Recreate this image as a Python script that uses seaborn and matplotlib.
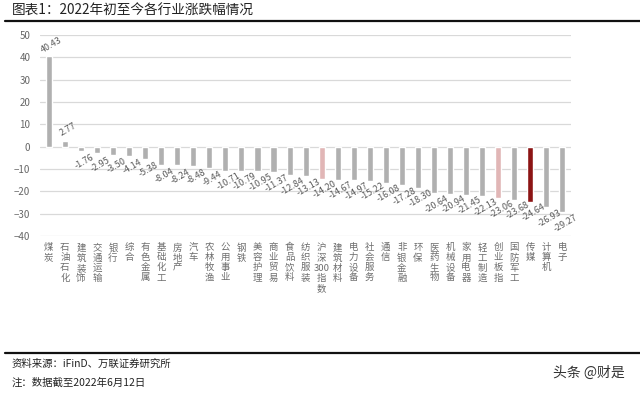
import matplotlib
matplotlib.use('Agg')
import matplotlib.pyplot as plt
import seaborn as sns
import pandas as pd

# 行业及涨跌幅（%）
categories = ['煤炭', '石油石化', '建筑装饰', '交通运输', '银行', '综合', '有色金属', '基础化工',
              '房地产', '汽车', '农林牧渔', '公用事业', '钢铁', '美容护理', '商业贸易', '食品饮料',
              '纺织服装', '沪深300指数', '建筑材料', '电力设备', '社会服务', '通信', '非银金融', '环保',
              '医药生物', '机械设备', '家用电器', '轻工制造', '创业板指', '国防军工', '传媒', '计算机', '电子']
values = [40.43, 2.77, -1.76, -2.95, -3.50, -4.14, -5.38, -8.04, -8.24, -8.48, -9.44, -10.71,
          -10.79, -10.95, -11.37, -12.84, -13.13, -14.20, -14.67, -14.97, -15.22, -16.08, -17.28,
          -18.30, -20.64, -20.94, -21.45, -22.13, -23.06, -23.68, -24.64, -26.93, -29.27]
index_names = ['沪深300指数', '创业板指']
highlight = '传媒'

sns.set_style('white')
plt.rcParams['font.family'] = ['Noto Sans CJK SC', 'DejaVu Sans']

df = pd.DataFrame({'行业': categories, '涨跌幅': values})
colors = []
for c in categories:
    if c in index_names:
        colors.append('#E8AFAF')
    elif c == highlight:
        colors.append('#A00000')
    else:
        colors.append('#B0B0B0')

fig = plt.figure(figsize=(6.4, 3.97), dpi=100)
ax = fig.add_axes([0.0625, 0.405, 0.83, 0.507])

sns.barplot(data=df, x='行业', y='涨跌幅', hue='行业', palette=colors, legend=False,
            width=0.38, ax=ax, zorder=3)

ax.set_ylim(-40, 50)
ax.set_yticks(range(-40, 51, 10))
ax.set_xlim(-0.55, len(categories) - 0.45)
ax.yaxis.grid(True, color='#D9D9D9', linewidth=0.9, zorder=0)
ax.xaxis.grid(False)
for s in ax.spines.values():
    s.set_visible(False)
ax.set_xlabel('')
ax.set_ylabel('')
ax.tick_params(axis='y', labelsize=7, colors='#666666', length=0, pad=7)

# 竖排类别标签
def vertical(name):
    parts = []
    i = 0
    while i < len(name):
        if name[i].isdigit():
            j = i
            while j < len(name) and name[j].isdigit():
                j += 1
            parts.append(name[i:j])
            i = j
        else:
            parts.append(name[i])
            i += 1
    return '\n'.join(parts)

ax.set_xticks(range(len(categories)))
ax.set_xticklabels([vertical(c) for c in categories], fontsize=6.8, color='#6E6E6E',
                   va='top', linespacing=1.15)
ax.tick_params(axis='x', length=0, pad=5)

# 数据标签
for i, v in enumerate(values):
    if v >= 0:
        ax.annotate(f'{v:.2f}', (i, v), xytext=(3, 11), textcoords='offset pixels',
                    ha='center', va='center', rotation=30, fontsize=6.5, color='#595959')
    else:
        ax.annotate(f'{v:.2f}', (i, v), xytext=(3, -11), textcoords='offset pixels',
                    ha='center', va='center', rotation=30, fontsize=6.5, color='#595959')

# 标题与上下分隔线
fig.text(12 / 640, 1 - 11 / 397, '图表1：2022年初至今各行业涨跌幅情况', fontsize=9.8,
         va='center', ha='left', color='#222222')
fig.add_artist(plt.Line2D([5 / 640, 1.0], [1 - 21 / 397] * 2, color='#111111', linewidth=1.6))
fig.add_artist(plt.Line2D([5 / 640, 1.0], [1 - 353 / 397] * 2, color='#111111', linewidth=1.6))

fig.text(12 / 640, 1 - 364 / 397, '资料来源：iFinD、万联证券研究所', fontsize=7.5, style='italic',
         va='center', ha='left', color='#222222')
fig.text(12 / 640, 1 - 383 / 397, '注：数据截至2022年6月12日', fontsize=7.5, style='italic',
         va='center', ha='left', color='#222222')
fig.text(625 / 640, 1 - 373 / 397, '头条 @财是', fontsize=10, va='center', ha='right',
         color='#333333')

fig.savefig('out.png', dpi=100)
